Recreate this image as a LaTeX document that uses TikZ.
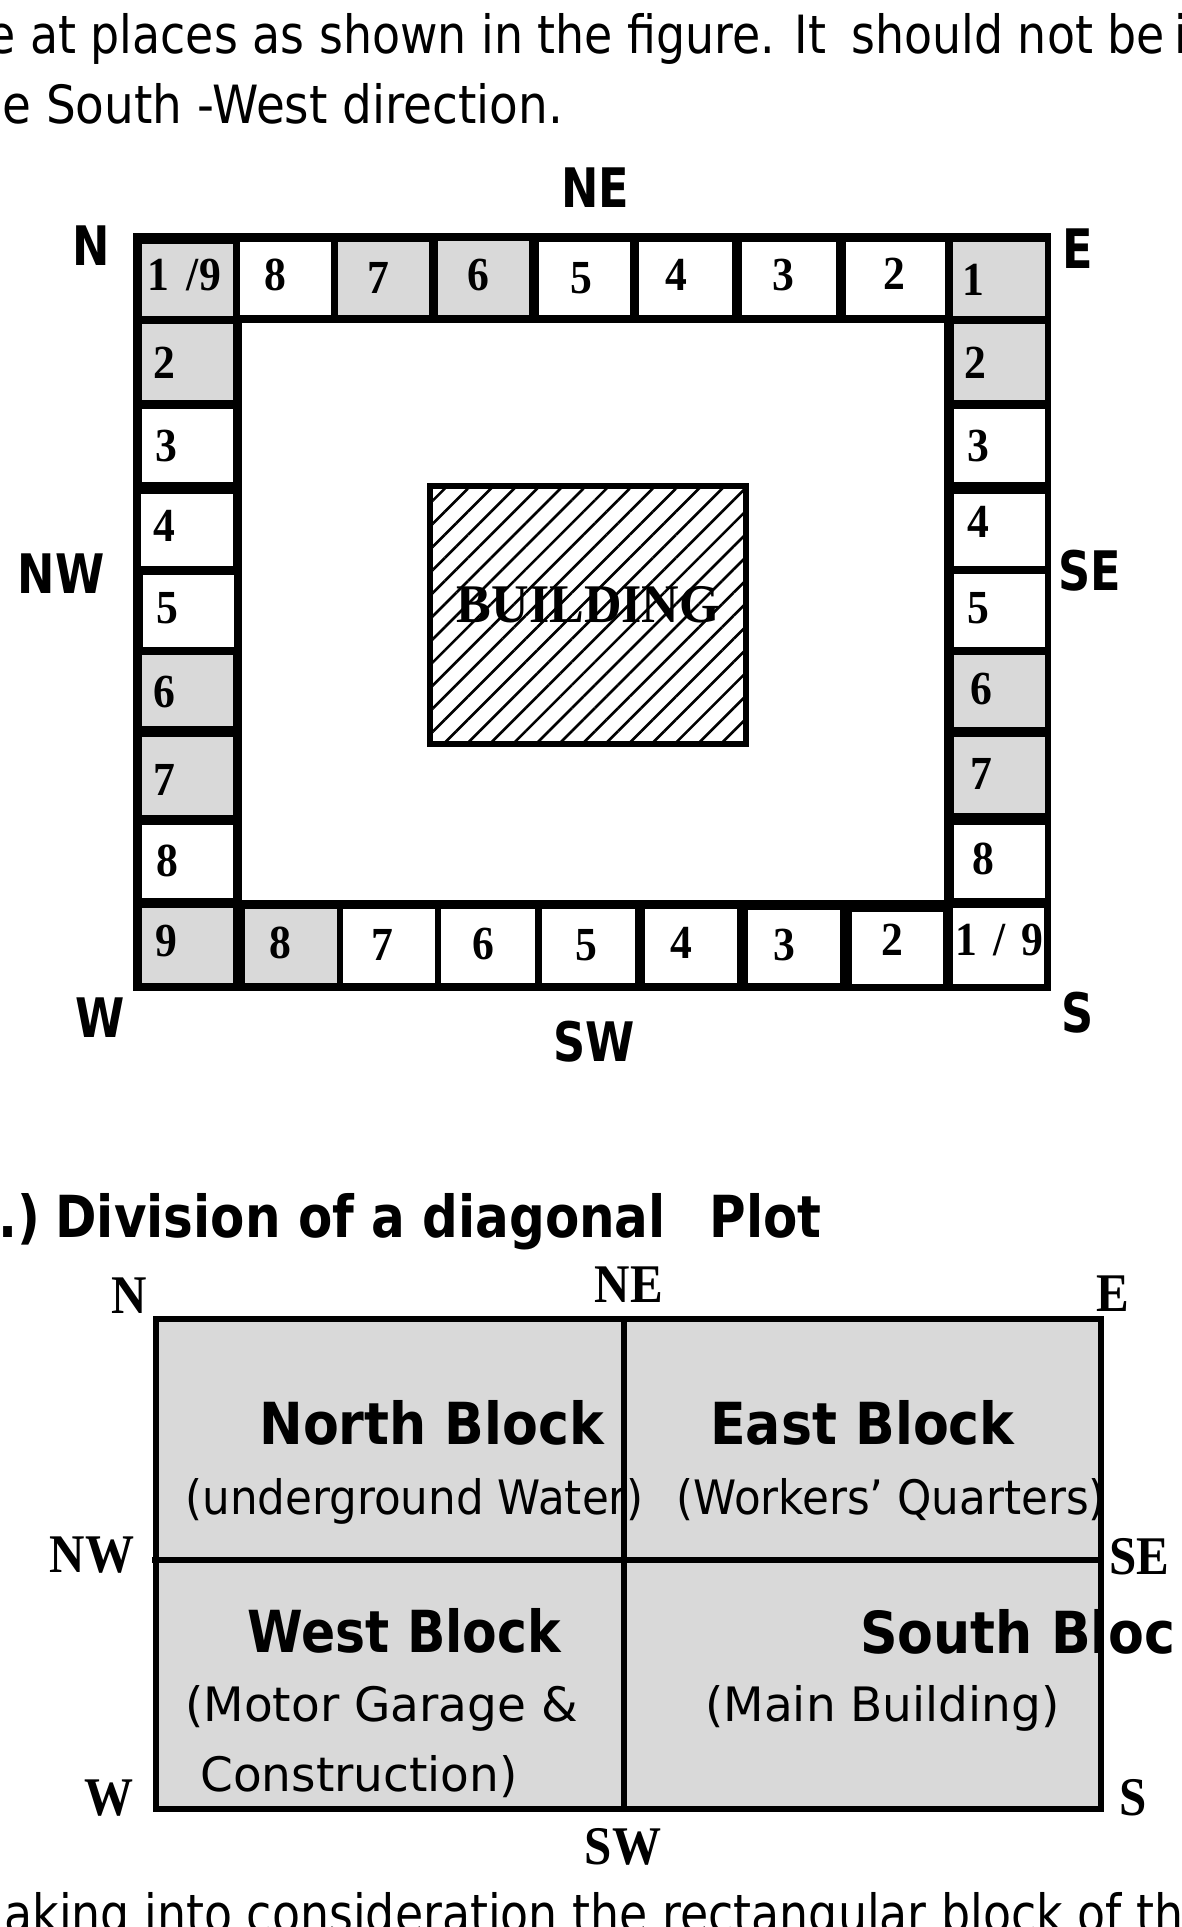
\documentclass[tikz,border=0pt]{standalone}
\usepackage{xcolor}
\usepackage{fontspec}
\usepackage{tikz}
\usetikzlibrary{patterns.meta}
\newfontfamily\bodyfont[FakeStretch=0.87]{DejaVu Sans}
\newfontfamily\bodywide[FakeStretch=0.89]{DejaVu Sans}
\newfontfamily\blockfont[FakeStretch=0.9]{DejaVu Sans}
\newfontfamily\titlefont[FakeStretch=0.862]{DejaVu Sans}
\newfontfamily\purposefont[FakeStretch=0.92]{DejaVu Sans}
\newfontfamily\purposewide[FakeStretch=0.99]{DejaVu Sans}
\newfontfamily\capfont[FakeStretch=0.82]{DejaVu Sans}
\newfontfamily\digitfont[FakeStretch=0.92]{Liberation Serif}
\newfontfamily\buildfont[FakeStretch=0.955]{Liberation Serif}
\newfontfamily\plotfont[FakeStretch=0.9]{Liberation Serif}
\definecolor{shade}{HTML}{D9D9D9}
\tikzset{
x=0.02cm, y=-0.02cm, % one unit is one pixel of the picture
cell/.style 2 args={inner sep=0pt, outer sep=0pt, minimum width=#1*0.02cm, minimum height=#2*0.02cm}, % a box of the border strip
num/.style={inner sep=0pt, font=\digitfont\bfseries\fontsize{27}{27}\selectfont}, % number inside a box
corner/.style={inner sep=0pt, font=\capfont\bfseries\fontsize{31}{31}\selectfont}, % direction round the first plot
pcorner/.style={inner sep=0pt, font=\plotfont\bfseries\fontsize{31}{31}\selectfont}, % direction round the second plot
body/.style={inner sep=0pt, anchor=base west, font=\bodyfont\fontsize{30}{30}\selectfont}, % running text
block/.style={inner sep=0pt, anchor=base west, font=\blockfont\bfseries\fontsize{33}{33}\selectfont}, % bold block name
purpose/.style={inner sep=0pt, anchor=base west, font=\purposefont\fontsize{27}{27}\selectfont}, % what the block is for
purposew/.style={purpose, font=\purposewide\fontsize{27}{27}\selectfont},
divide/.style={line width=3.4pt},
}
\begin{document}
\begin{tikzpicture}
        \useasboundingbox (0,0) rectangle (1181,1927);
        \node[body] (line1) at (-13,53) {e at places as shown in the figure. It\hspace{6pt} should not be\hspace{-3pt} i};
        \node[body, font=\bodywide\fontsize{30}{30}\selectfont] (line2) at (2,123) {e South -West direction.};
        \node[corner] (ne) at (595,188) {NE};
        \node[corner] (n) at (91,246) {N};
        \node[corner] (e) at (1078,249) {E};
        \node[corner] (nw) at (61,574) {NW};
        \node[corner] (se) at (1090,571) {SE};
        \node[corner] (w) at (100,1018) {W};
        \node[corner] (sw) at (594,1042) {SW};
        \node[corner] (s) at (1078,1013) {S};

        % border strip: black ring, then the boxes on it
        \node[cell={918}{758}, fill=black] (ring) at (592,612) {};
        \node[cell={702}{577}, fill=white] (yard) at (593,611.5) {};
        \node[cell={91}{72}, fill=shade] (t9) at (187.5,280) {};
        \node[cell={91}{73}, fill=white] (t8) at (285.5,278.5) {};
        \node[cell={91}{73}, fill=shade] (t7) at (383.5,278.5) {};
        \node[cell={91}{74}, fill=shade] (t6) at (483.5,278) {};
        \node[cell={91}{73}, fill=white] (t5) at (584.5,278.5) {};
        \node[cell={93}{73}, fill=white] (t4) at (685.5,278.5) {};
        \node[cell={94}{73}, fill=white] (t3) at (789,278.5) {};
        \node[cell={99}{73}, fill=white] (t2) at (895.5,278.5) {};
        \node[cell={92}{74}, fill=shade] (t1) at (999,279) {};
        \node[cell={91}{76}, fill=shade] (l2) at (187.5,362) {};
        \node[cell={91}{73}, fill=white] (l3) at (187.5,445.5) {};
        \node[cell={92}{72}, fill=white] (l4) at (187,530) {};
        \node[cell={91}{72}, fill=white] (l5) at (188.5,611) {};
        \node[cell={91}{71}, fill=shade] (l6) at (187.5,690.5) {};
        \node[cell={91}{78}, fill=shade] (l7) at (187.5,776) {};
        \node[cell={91}{73}, fill=white] (l8) at (187.5,861.5) {};
        \node[cell={91}{75}, fill=shade] (l9) at (187.5,945.5) {};
        \node[cell={91}{76}, fill=shade] (r2) at (999.5,362) {};
        \node[cell={91}{73}, fill=white] (r3) at (999.5,445.5) {};
        \node[cell={91}{72}, fill=white] (r4) at (999.5,530) {};
        \node[cell={91}{73}, fill=white] (r5) at (999.5,610.5) {};
        \node[cell={91}{72}, fill=shade] (r6) at (999.5,691) {};
        \node[cell={91}{76}, fill=shade] (r7) at (999.5,775) {};
        \node[cell={91}{73}, fill=white] (r8) at (999.5,861.5) {};
        \node[cell={91}{76}, fill=white] (r9) at (998.5,946) {};
        \node[cell={92}{74}, fill=shade] (b8) at (291,946) {};
        \node[cell={92}{74}, fill=white] (b7) at (389,946) {};
        \node[cell={94}{74}, fill=white] (b6) at (488,946) {};
        \node[cell={93}{74}, fill=white] (b5) at (588.5,946) {};
        \node[cell={92}{74}, fill=white] (b4) at (691,946) {};
        \node[cell={92}{73}, fill=white] (b3) at (794,946.5) {};
        \node[cell={91}{72}, fill=white] (b2) at (897.5,948) {};

        % numbers sit off centre in their boxes
        \node[num] (t9n) at (184,275) {1\hspace{4pt} /9};
        \node[num] (t8n) at (275.5,275) {8};
        \node[num] (t7n) at (378.5,278) {7};
        \node[num] (t6n) at (478.5,275) {6};
        \node[num] (t5n) at (581.5,278) {5};
        \node[num] (t4n) at (676.5,275) {4};
        \node[num] (t3n) at (783.5,275) {3};
        \node[num] (t2n) at (894,274) {2};
        \node[num] (t1n) at (973.5,280) {1};
        \node[num] (l2n) at (164,363) {2};
        \node[num] (l3n) at (166.5,446) {3};
        \node[num] (l4n) at (164.5,526) {4};
        \node[num] (l5n) at (167.5,608) {5};
        \node[num] (l6n) at (164.5,692) {6};
        \node[num] (l7n) at (164.5,780) {7};
        \node[num] (l8n) at (167.5,861) {8};
        \node[num] (l9n) at (166.5,941) {9};
        \node[num] (r2n) at (975.5,363) {2};
        \node[num] (r3n) at (978,446) {3};
        \node[num] (r4n) at (978,522) {4};
        \node[num] (r5n) at (978,608) {5};
        \node[num] (r6n) at (981,689) {6};
        \node[num] (r7n) at (981,774) {7};
        \node[num] (r8n) at (983,859) {8};
        \node[num] (r9n) at (999.5,940) {1\hspace{3pt} / \hspace{3pt}9};
        \node[num] (b8n) at (280.5,943) {8};
        \node[num] (b7n) at (382.5,945) {7};
        \node[num] (b6n) at (483.5,944) {6};
        \node[num] (b5n) at (586.5,945) {5};
        \node[num] (b4n) at (681.5,943) {4};
        \node[num] (b3n) at (784.5,945) {3};
        \node[num] (b2n) at (892.5,940) {2};

        \node[cell={316}{258}, draw, line width=3.4pt, pattern={Lines[angle=45,distance=9.3pt,line width=1.5pt]}] (house) at (588,615) {};
        \node[inner sep=0pt, font=\buildfont\bfseries\fontsize{31}{31}\selectfont] (houselabel) at (588.5,605) {BUILDING};

        \node[block, font=\titlefont\bfseries\fontsize{33}{33}\selectfont] (title) at (-2,1237) {.)\hspace{-4.5pt} Division of a diagonal\hspace{15pt} Plot};

        \node[cell={945}{490}, draw, fill=shade, line width=3.4pt] (plot) at (628.5,1564) {};
        \coordinate (midtop) at (624,1319);
        \coordinate (midbot) at (624,1809);
        \coordinate (midleft) at (152,1560);
        \coordinate (midright) at (1101,1560);
        \draw[divide] (midtop) -- (midbot);
        \draw[divide] (midleft) -- (midright);
        \node[pcorner] (pn) at (129,1296) {N};
        \node[pcorner] (pne) at (629,1285) {NE};
        \node[pcorner] (pe) at (1113,1294) {E};
        \node[pcorner] (pnw) at (92,1555) {NW};
        \node[pcorner] (pse) at (1139,1557) {SE};
        \node[pcorner] (pw) at (109,1798) {W};
        \node[pcorner] (ps) at (1133,1798) {S};
        \node[pcorner] (psw) at (623,1847) {SW};

        \node[block] (north) at (259,1444) {North Block};
        \node[purpose] (northuse) at (185,1514) {(underground Water)};
        \node[block] (east) at (710,1444) {East Block};
        \node[purpose] (eastuse) at (676,1514) {(Workers’ Quarters)};
        \node[block, font=\bodyfont\bfseries\fontsize{33}{33}\selectfont] (west) at (247,1652) {West Block};
        \node[purposew] (westuse) at (185,1721) {(Motor Garage \&};
        \node[purposew] (westuseb) at (200,1791) {Construction)};
        \node[block] (south) at (860,1653) {South Bloc};
        \node[purposew] (southuse) at (705,1721) {(Main Building)};
        \node[body] (line3) at (4,1932) {aking into consideration the rectangular block of th};
\end{tikzpicture}
\end{document}
